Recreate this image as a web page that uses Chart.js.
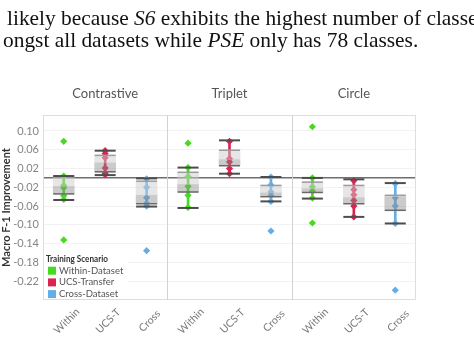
<!DOCTYPE html>
<html>
<head>
<meta charset="utf-8">
<script src="https://cdn.jsdelivr.net/npm/chart.js@4.4.1/dist/chart.umd.min.js"></script>
<style>
  html, body { margin: 0; padding: 0; background: #fff; overflow: hidden; }
  #wrap { position: relative; width: 474px; height: 351px; overflow: hidden; }
  #chart { position: absolute; left: 0; top: 0; }
  .paper { position: absolute; left: 0; top: 0; width: 474px; font-family: 'Liberation Serif', 'Times New Roman', serif; font-size: 21.4px; line-height: 22px; color: #111; white-space: nowrap; }
  .paper div { position: absolute; }
</style>
</head>
<body>
<div id="wrap">
  <canvas id="chart" width="474" height="351"></canvas>
  <div class="paper">
    <div style="left:7px; top:7px">likely because <i>S6</i> exhibits the highest number of classes</div>
    <div style="left:3px; top:29px">ongst all datasets while <i>PSE</i> only has 78 classes.</div>
  </div>
</div>
<script>
const panels = ['Contrastive', 'Triplet', 'Circle'];
const scenarioTicks = ['Within', 'UCS-T', 'Cross'];
const seriesNames = ['Within-Dataset', 'UCS-Transfer', 'Cross-Dataset'];
const seriesColors = ['#45dc1f', '#dc2350', '#63aee8'];
const yTicks = [0.10, 0.06, 0.02, 0, -0.02, -0.06, -0.10, -0.14, -0.18, -0.22];

// box stats, order: Contrastive W/U/C, Triplet W/U/C, Circle W/U/C
const whiskerHigh = [0.004, 0.058, -0.001, 0.022, 0.080, 0.002, 0.000, -0.003, -0.011];
const q3 = [0.004, 0.048, -0.007, 0.012, 0.059, -0.016, -0.009, -0.016, -0.037];
const median = [-0.018, 0.032, -0.037, -0.014, 0.039, -0.032, -0.023, -0.042, -0.040];
const q1 = [-0.034, 0.013, -0.055, -0.030, 0.026, -0.040, -0.031, -0.055, -0.069];
const whiskerLow = [-0.047, 0.006, -0.061, -0.064, 0.009, -0.050, -0.044, -0.083, -0.097];

// individual results, one list per panel
const withinPoints = [
  [0.078, 0.004, -0.016, -0.021, -0.038, -0.046, -0.132],
  [0.074, 0.022, 0.003, -0.018, -0.037, -0.063],
  [0.109, 0.000, -0.019, -0.028, -0.043, -0.096]
];
const ucsPoints = [
  [0.058, 0.052, 0.043, 0.021, 0.010, 0.007],
  [0.078, 0.041, 0.034, 0.020, 0.009],
  [-0.006, -0.025, -0.036, -0.048, -0.060, -0.083]
];
const crossPoints = [
  [-0.002, -0.020, -0.042, -0.054, -0.060, -0.155],
  [0.002, -0.015, -0.030, -0.038, -0.050, -0.113],
  [-0.012, -0.042, -0.060, -0.097, -0.239]
];

const seriesPoints = [withinPoints, ucsPoints, crossPoints];
const boxIdx = whiskerHigh.map((_, i) => i);
const boxX = i => i + 0.5;

const pointSets = seriesPoints.map((perPanel, s) => ({
  type: 'line',
  label: seriesNames[s],
  showLine: false,
  order: 3,
  data: perPanel.flatMap((vals, p) => vals.map(v => ({ x: boxX(p * 3 + s), y: v }))),
  pointStyle: 'rectRot',
  pointRadius: 3.6,
  pointBorderWidth: 0,
  backgroundColor: seriesColors[s]
}));

const edgeSet = (vals, color, width, radius) => ({
  type: 'line',
  showLine: false,
  order: 0,
  data: boxIdx.map(i => ({ x: boxX(i), y: vals[i] })),
  pointStyle: 'line',
  pointRadius: radius,
  pointBorderColor: color,
  pointBorderWidth: width
});

const panelFrame = {
  id: 'panelFrame',
  beforeDatasetsDraw(chart) {
    const { ctx, chartArea: a, scales } = chart;
    ctx.save();
    ctx.strokeStyle = '#dedede';
    ctx.lineWidth = 1;
    ctx.strokeRect(a.left + 0.5, a.top + 0.5, a.width - 1, a.height - 1);
    ctx.strokeStyle = '#d2d2d2';
    [3, 6].forEach(v => {
      const px = Math.round(scales.x.getPixelForValue(v)) + 0.5;
      ctx.beginPath();
      ctx.moveTo(px, a.top);
      ctx.lineTo(px, a.bottom);
      ctx.stroke();
    });
    ctx.restore();
  }
};

// category labels under each box, slanted and centred on the box
const slantLabels = {
  id: 'slantLabels',
  afterDraw(chart) {
    const { ctx, chartArea: a, scales } = chart;
    ctx.save();
    ctx.fillStyle = '#7a7a7a';
    ctx.font = '10.5px Lato';
    ctx.textAlign = 'center';
    ctx.textBaseline = 'middle';
    scales.x.ticks.forEach((t, i) => {
      ctx.save();
      ctx.translate(scales.x.getPixelForValue(t.value) + 3, a.bottom + 21);
      ctx.rotate(-Math.PI / 4);
      ctx.fillText(scenarioTicks[i % 3], 0, 0);
      ctx.restore();
    });
    ctx.restore();
  }
};

const legendBox = {
  id: 'legendBox',
  afterDatasetsDraw(chart) {
    const { ctx, chartArea: a } = chart;
    const left = a.left + 1;
    ctx.save();
    ctx.fillStyle = '#fff';
    ctx.fillRect(left, 251, 84, a.bottom - 252);
    ctx.textBaseline = 'middle';
    ctx.fillStyle = '#333';
    ctx.font = 'bold 9px Lato';
    ctx.fillText('Training Scenario', left + 2, 259, 62);
    seriesNames.forEach((name, i) => {
      const cy = 270.7 + i * 11.7;
      ctx.fillStyle = seriesColors[i];
      ctx.fillRect(left + 4, cy - 4, 8, 8);
      ctx.fillStyle = '#555';
      ctx.font = '9.5px Lato';
      ctx.fillText(name, left + 15, cy);
    });
    ctx.restore();
  }
};

new Chart(document.getElementById('chart'), {
  type: 'bar',
  data: {
    datasets: [
      edgeSet(whiskerHigh, '#4d4d4d', 2, 10.5),
      edgeSet(whiskerLow, '#4d4d4d', 2, 10.5),
      edgeSet(q3, '#9b9b9b', 1.5, 10.5),
      edgeSet(q1, '#6a6a6a', 1.5, 10.5),
      {
        type: 'bar', order: 1, grouped: false, barThickness: 21,
        data: boxIdx.map(i => ({ x: boxX(i), y: [median[i], q3[i]] })),
        backgroundColor: 'rgba(205,205,205,0.5)'
      },
      {
        type: 'bar', order: 1, grouped: false, barThickness: 21,
        data: boxIdx.map(i => ({ x: boxX(i), y: [q1[i], median[i]] })),
        backgroundColor: 'rgba(140,140,140,0.45)'
      },
      ...pointSets,
      {
        type: 'bar', order: 4, grouped: false, barThickness: 2,
        data: boxIdx.map(i => ({ x: boxX(i), y: [whiskerLow[i], whiskerHigh[i]] })),
        backgroundColor: boxIdx.map(i => seriesColors[i % 3])
      }
    ]
  },
  options: {
    responsive: false,
    animation: false,
    events: [],
    layout: { padding: { left: 0, right: 58, top: 0, bottom: 0 } },
    plugins: { legend: { display: false }, tooltip: { enabled: false } },
    scales: {
      x: {
        type: 'linear', min: 0, max: 9, offset: false,
        afterBuildTicks: s => { s.ticks = boxIdx.map(i => ({ value: boxX(i) })); },
        afterFit: s => { s.height = 51; },
        grid: { display: false },
        border: { display: false },
        ticks: { display: false }
      },
      x2: {
        type: 'category', labels: panels, position: 'top', offset: true,
        grid: { display: false },
        border: { display: false },
        afterFit: s => { s.height = 115; },
        ticks: { color: '#555', font: { family: 'Lato', size: 13 }, padding: 5 }
      },
      y: {
        min: -0.26, max: 0.134,
        afterBuildTicks: s => { s.ticks = yTicks.map(v => ({ value: v })); },
        afterFit: s => { s.width = 43; },
        border: { display: false },
        grid: {
          drawTicks: false,
          color: c => (c.tick && c.tick.value === 0) ? '#6e6e6e' : '#f2f2f2',
          lineWidth: c => (c.tick && c.tick.value === 0) ? 1.5 : 1
        },
        ticks: {
          padding: 4, color: '#858585', font: { family: 'Lato', size: 11 },
          callback: v => v === 0 ? '' : v.toFixed(2)
        },
        title: {
          display: true, text: 'Macro F-1 Improvement', color: '#333',
          font: { family: 'Lato', size: 11, weight: 'bold' }, padding: { top: 0, bottom: 2 }
        }
      }
    }
  },
  plugins: [panelFrame, slantLabels, legendBox]
});
</script>
</body>
</html>
